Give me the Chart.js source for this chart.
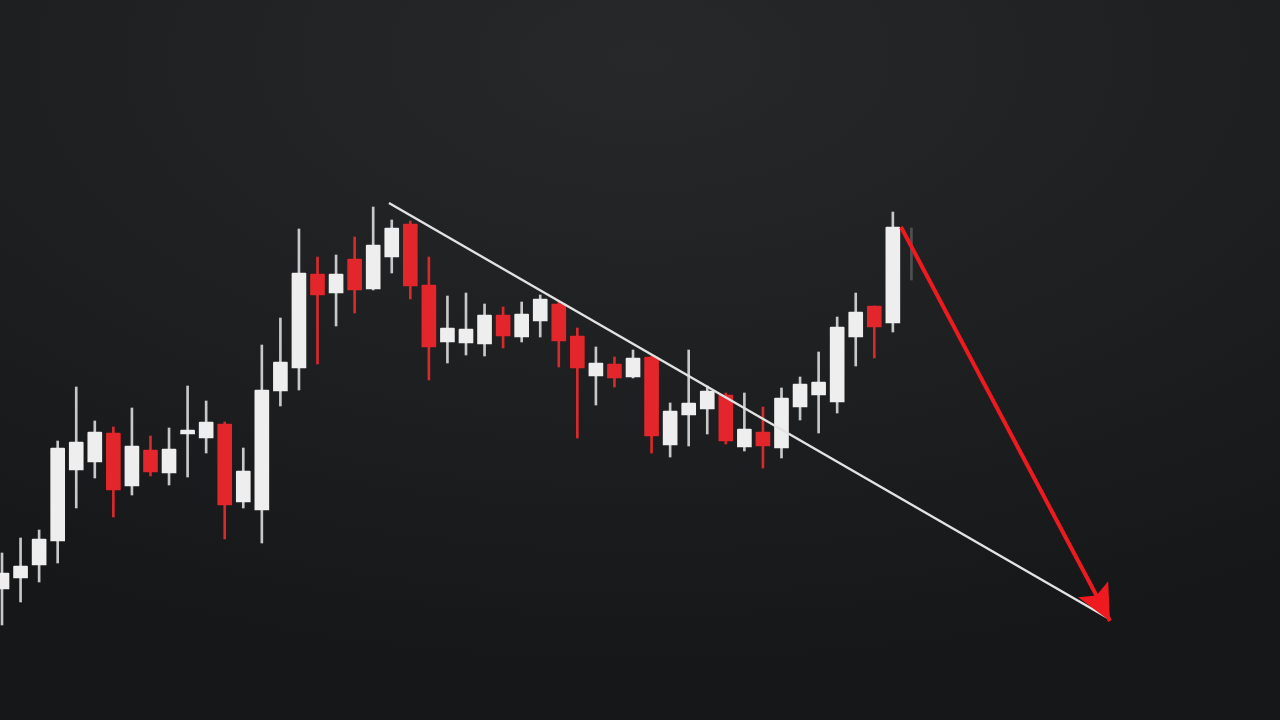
<!DOCTYPE html>
<html>
<head>
<meta charset="utf-8">
<title>Candles</title>
<script src="https://cdn.jsdelivr.net/npm/chart.js@4.4.1/dist/chart.umd.min.js"></script>
<style>
  html, body {
    margin: 0;
    padding: 0;
    width: 1280px;
    height: 720px;
    overflow: hidden;
    background: radial-gradient(ellipse 90% 85% at 50% 8%, #27282a 0%, #1d1f21 55%, #161719 100%);
  }
  canvas { display: block; }
</style>
</head>
<body>
<canvas id="candleChart" width="1280" height="720"></canvas>
<script>
// candle index (x) and prices
const opens  = [131, 142, 155, 179, 250, 258, 287, 234, 270, 247, 286, 282, 296, 218, 210, 329, 352, 446, 427, 461,
                431, 463, 496, 435, 378, 377, 376, 405, 383, 399, 416, 384, 344, 356, 343, 363, 275, 305, 311, 325,
                273, 288, 272, 313, 325, 318, 383, 414, 397, 480];
const highs  = [167, 182, 190, 279, 333, 299, 293, 312, 284, 292, 334, 319, 298, 272, 375, 402, 491, 463, 465, 483,
                513, 500, 499, 463, 424, 427, 416, 413, 418, 425, 419, 392, 373, 363, 370, 364, 317, 370, 334, 327,
                327, 313, 332, 343, 368, 403, 427, 414, 508, 492];
const lows   = [95, 118, 138, 157, 212, 242, 203, 225, 244, 235, 243, 267, 181, 212, 177, 314, 330, 356, 394, 407,
                430, 447, 421, 340, 357, 365, 364, 372, 378, 383, 353, 282, 315, 333, 342, 267, 263, 274, 286, 276,
                269, 252, 262, 300, 287, 307, 354, 362, 388, 440];
const closes = [147, 154, 181, 272, 278, 288, 230, 274, 248, 271, 290, 298, 215, 249, 330, 358, 447, 425, 446, 430,
                475, 492, 434, 373, 392, 391, 405, 384, 406, 421, 379, 352, 357, 342, 362, 284, 309, 317, 329, 279,
                291, 274, 322, 336, 338, 393, 408, 393, 493, 486];

// drawn lines: falling trend line and the red arrow
const trendX = [20.85, 59.59];
const trendY = [517, 102];
const arrowX = [48.44, 59.70];
const arrowY = [493, 99];

const bullBody = '#eeeeee';
const bearBody = '#e3262b';
const bullWick = '#c8c8c8';
const bearWick = '#d82a2a';

const idx = opens.map((o, i) => i);
const isLast = i => i === opens.length - 1;
// the last candle is mostly hidden behind the arrow: only a faint wick shows
const bodyColors = idx.map(i => isLast(i) ? 'rgba(0,0,0,0)' : (closes[i] >= opens[i] ? bullBody : bearBody));
const wickColors = idx.map(i => isLast(i) ? 'rgba(190,190,190,0.3)' : (closes[i] >= opens[i] ? bullWick : bearWick));

const bodies = idx.map(i => ({ x: i, y: [opens[i], closes[i]] }));
const wicks = idx.map(i => ({ x: i, y: [lows[i], highs[i]] }));
const trend = trendX.map((x, i) => ({ x: x, y: trendY[i] }));
const arrow = arrowX.map((x, i) => ({ x: x, y: arrowY[i] }));

// draws the arrow head at the end of the red line
const arrowHead = {
    id: 'arrowHead',
    afterDatasetsDraw(chart) {
        const pts = chart.getDatasetMeta(3).data;
        if (pts.length < 2) return;
        const a = pts[pts.length - 2], b = pts[pts.length - 1];
        const ang = Math.atan2(b.y - a.y, b.x - a.x);
        const len = 36, half = 17;
        const ctx = chart.ctx;
        ctx.save();
        ctx.translate(b.x, b.y);
        ctx.rotate(ang);
        ctx.fillStyle = '#ee1a1f';
        ctx.beginPath();
        ctx.moveTo(0, 0);
        ctx.lineTo(-len, -half);
        ctx.lineTo(-len * 0.8, 0);
        ctx.lineTo(-len, half);
        ctx.closePath();
        ctx.fill();
        ctx.restore();
    }
};

new Chart(document.getElementById('candleChart'), {
    data: {
        datasets: [{
            type: 'bar',
            data: wicks,
            backgroundColor: wickColors,
            barThickness: 2,
            grouped: false,
            order: 3
        }, {
            type: 'bar',
            data: bodies,
            backgroundColor: bodyColors,
            barThickness: 14,
            borderRadius: 1,
            grouped: false,
            order: 2
        }, {
            type: 'line',
            data: trend,
            borderColor: '#e2e2e2',
            borderWidth: 2.5,
            pointRadius: 0,
            order: 1
        }, {
            type: 'line',
            data: arrow,
            borderColor: '#ee1a1f',
            borderWidth: 4,
            pointRadius: 0,
            order: 0
        }]
    },
    options: {
        responsive: false,
        animation: false,
        layout: { padding: 0 },
        plugins: {
            legend: { display: false },
            tooltip: { enabled: false }
        },
        scales: {
            x: {
                type: 'linear',
                display: false,
                offset: false,
                min: -0.108,
                max: 68.86
            },
            y: {
                display: false,
                min: 0,
                max: 720
            }
        }
    },
    plugins: [arrowHead]
});
</script>
</body>
</html>
